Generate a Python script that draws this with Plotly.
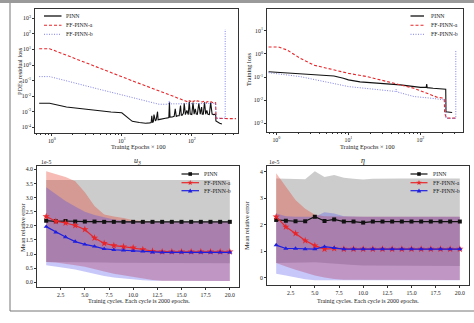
import math
import plotly.graph_objects as go

W, H = 474, 323
def fx(p): return p / W
def fy(p): return 1 - p / H

# ---------------- data ----------------
# top-left: PDEs residual loss
tl_pinn_x = [0.66, 0.93, 1.62, 3.0, 4.8, 7, 10, 11.7, 14.1, 17.8, 21.9, 25, 26.3, 26.8, 27.5, 28.2, 28.8, 30.2, 31, 32.4, 33, 35, 38, 40, 42, 45, 47, 47.9, 48.8, 52.5, 56, 58, 60, 63, 66, 69, 70.8, 73, 76, 78, 81, 85, 89, 92, 95, 100, 104, 108, 112, 116, 120, 126, 132, 138, 141, 146, 152, 158, 164, 170, 178, 186, 195, 205, 212, 219, 221, 235, 250, 269]
tl_pinn_y = [3.5e-3, 3.5e-3, 2.0e-3, 1.4e-3, 1.1e-3, 9.5e-4, 8.5e-4, 5.0e-4, 2.4e-4, 2.0e-4, 1.8e-4, 1.9e-4, 2.0e-4, 5.5e-4, 2.1e-4, 2.2e-4, 6.5e-4, 2.6e-4, 3.0e-4, 1.0e-3, 3.0e-4, 3.2e-4, 3.3e-4, 3.6e-4, 3.8e-4, 4.0e-4, 4.2e-4, 4.0e-3, 4.5e-4, 4.6e-4, 5.0e-4, 1.5e-3, 5.0e-4, 5.5e-4, 5.5e-4, 2.5e-3, 6.0e-4, 6.0e-4, 8.0e-4, 3.5e-3, 6.5e-4, 1.2e-3, 6.5e-4, 4.5e-3, 7e-4, 6.5e-4, 3.8e-3, 7e-4, 1.5e-3, 7e-4, 6.8e-4, 3.5e-3, 7e-4, 2.0e-3, 7e-4, 7e-4, 4.0e-3, 7e-4, 1.2e-3, 6.8e-4, 6.5e-4, 3.8e-3, 7e-4, 6.5e-4, 7e-4, 7e-4, 2.5e-4, 2.0e-4, 1.8e-4, 1.6e-4]
tl_a_x = [0.66, 0.93, 1.05, 1.5, 2, 3, 5, 7, 10, 15, 20, 30, 40, 50, 60, 67, 75, 80, 85, 90, 95, 100, 105, 110, 115, 120, 130, 140, 150, 160, 170, 180, 190, 200, 212, 219, 222, 260, 330, 427]
tl_a_y = [11, 11, 9.1, 4.8, 2.95, 1.45, 0.6, 0.33, 0.18, 0.087, 0.054, 0.026, 0.016, 0.011, 7.8e-3, 6.6e-3, 5.5e-3, 5e-3, 4.5e-3, 5.5e-3, 4.5e-3, 5.5e-3, 4.5e-3, 5e-3, 4.2e-3, 5e-3, 4.5e-3, 4.2e-3, 4.8e-3, 4.0e-3, 4.5e-3, 4.0e-3, 4.3e-3, 3.8e-3, 4.0e-3, 3.8e-3, 3.8e-4, 3.6e-4, 3.6e-4, 3.6e-4]
tl_b_x = [0.66, 0.93, 1.5, 2, 3, 5, 10, 20, 30, 34, 40, 46, 47.9, 49, 60, 80, 100, 150, 200, 219, 222, 296, 300, 300]
tl_b_y = [0.18, 0.18, 0.105, 0.074, 0.047, 0.026, 0.012, 5.4e-3, 3.4e-3, 3.0e-3, 3.0e-3, 3.0e-3, 5e-3, 3.2e-3, 3.2e-3, 3.3e-3, 3.5e-3, 3.5e-3, 3.4e-3, 3.4e-3, 3.8e-4, 3.8e-4, 3.8e-4, 200]

# top-right: training loss
tr_pinn_x = [0.78, 2.14, 6.3, 8.5, 10, 14.5, 31, 52.5, 100, 120, 122, 124, 150, 224, 226, 250, 275]
tr_pinn_y = [0.17, 0.135, 0.112, 0.089, 0.076, 0.062, 0.054, 0.046, 0.036, 0.036, 0.05, 0.035, 0.033, 0.03, 3.2e-3, 3.0e-3, 2.95e-3]
tr_a_x = [0.78, 1.07, 1.41, 2.14, 3.3, 5, 10, 18.2, 31, 52.5, 81, 123, 170, 200, 214, 216, 230, 309]
tr_a_y = [2.0, 2.0, 1.48, 0.65, 0.33, 0.24, 0.145, 0.105, 0.069, 0.046, 0.033, 0.02, 0.0135, 0.0126, 0.011, 2.8e-3, 1.7e-3, 1.7e-3]
tr_b_x = [0.78, 2.14, 10, 31, 45, 46, 47, 52.5, 81, 140, 224, 226, 309, 309]
tr_b_y = [0.155, 0.105, 0.039, 0.0275, 0.024, 0.03, 0.023, 0.021, 0.0145, 0.0123, 0.0102, 1.66e-3, 1.66e-3, 1.5]

# bottom: mean relative error (x 1e-5) per training cycle
cycles = [1, 2, 3, 4, 5, 6, 7, 8, 9, 10, 11, 12, 13, 14, 15, 16, 17, 18, 19, 20]
u3_pinn = [2.18, 2.16, 2.17, 2.15, 2.15, 2.15, 2.14, 2.14, 2.14, 2.14, 2.14, 2.14, 2.14, 2.14, 2.14, 2.14, 2.14, 2.14, 2.14, 2.14]
u3_a = [2.33, 2.16, 2.10, 2.01, 1.87, 1.57, 1.38, 1.30, 1.26, 1.22, 1.16, 1.10, 1.08, 1.08, 1.08, 1.08, 1.08, 1.08, 1.08, 1.08]
u3_b = [1.97, 1.77, 1.60, 1.44, 1.34, 1.27, 1.18, 1.15, 1.13, 1.11, 1.09, 1.06, 1.06, 1.06, 1.06, 1.06, 1.06, 1.06, 1.06, 1.06]
u3_pinn_hi = [3.62, 3.62, 3.62, 3.62, 3.62, 3.62, 3.62, 3.62, 3.62, 3.62, 3.62, 3.62, 3.62, 3.62, 3.62, 3.62, 3.62, 3.62, 3.62, 3.62]
u3_pinn_lo = [0.72, 0.72, 0.71, 0.71, 0.70, 0.70, 0.70, 0.69, 0.69, 0.69, 0.68, 0.68, 0.68, 0.68, 0.68, 0.67, 0.67, 0.67, 0.67, 0.67]
u3_a_hi = [3.93, 3.83, 3.73, 3.58, 3.19, 2.70, 2.40, 2.33, 2.28, 2.20, 2.16, 2.14, 2.14, 2.14, 2.14, 2.14, 2.14, 2.14, 2.14, 2.14]
u3_a_lo = [0.72, 0.70, 0.66, 0.60, 0.55, 0.47, 0.38, 0.30, 0.24, 0.18, 0.13, 0.08, 0.05, 0.04, 0.04, 0.04, 0.04, 0.04, 0.04, 0.04]
u3_b_hi = [3.37, 3.12, 2.88, 2.68, 2.50, 2.38, 2.30, 2.22, 2.18, 2.15, 2.14, 2.14, 2.14, 2.14, 2.14, 2.14, 2.14, 2.14, 2.14, 2.14]
u3_b_lo = [0.60, 0.55, 0.50, 0.45, 0.38, 0.30, 0.22, 0.17, 0.13, 0.10, 0.07, 0.05, 0.04, 0.04, 0.04, 0.04, 0.04, 0.04, 0.04, 0.04]

eta_pinn = [2.18, 2.15, 2.13, 2.13, 2.30, 2.14, 2.20, 2.12, 2.12, 2.08, 2.12, 2.12, 2.12, 2.12, 2.12, 2.12, 2.12, 2.12, 2.12, 2.12]
eta_a = [2.30, 1.92, 1.67, 1.40, 1.21, 1.08, 1.10, 1.08, 1.08, 1.08, 1.08, 1.08, 1.08, 1.08, 1.08, 1.08, 1.08, 1.08, 1.08, 1.08]
eta_b = [1.23, 1.10, 1.10, 1.08, 1.08, 1.17, 1.12, 1.08, 1.08, 1.08, 1.08, 1.08, 1.08, 1.08, 1.08, 1.08, 1.08, 1.08, 1.08, 1.08]
eta_pinn_hi = [3.75, 3.74, 3.73, 3.72, 4.02, 3.80, 3.88, 3.78, 3.74, 3.71, 3.74, 3.75, 3.75, 3.75, 3.75, 3.75, 3.75, 3.75, 3.75, 3.75]
eta_pinn_lo = [0.55, 0.55, 0.56, 0.57, 0.58, 0.55, 0.52, 0.50, 0.48, 0.46, 0.45, 0.45, 0.45, 0.44, 0.44, 0.44, 0.44, 0.44, 0.44, 0.44]
eta_a_hi = [3.95, 3.43, 2.93, 2.60, 2.38, 2.32, 2.31, 2.30, 2.30, 2.30, 2.30, 2.30, 2.30, 2.30, 2.30, 2.30, 2.30, 2.30, 2.30, 2.30]
eta_a_lo = [0.55, 0.42, 0.30, 0.18, 0.08, 0.00, -0.05, -0.08, -0.09, -0.09, -0.09, -0.09, -0.09, -0.09, -0.09, -0.09, -0.09, -0.09, -0.09, -0.09]
eta_b_hi = [2.42, 2.32, 2.30, 2.30, 2.30, 2.47, 2.42, 2.32, 2.30, 2.30, 2.30, 2.30, 2.30, 2.30, 2.30, 2.30, 2.30, 2.30, 2.30, 2.30]
eta_b_lo = [0.15, 0.08, 0.00, -0.06, -0.10, -0.10, -0.10, -0.10, -0.10, -0.10, -0.10, -0.10, -0.10, -0.10, -0.10, -0.10, -0.10, -0.10, -0.10, -0.10]

names = ["PINN", "FF-PINN-a", "FF-PINN-b"]

# ---------------- styles ----------------
FONT = "Liberation Serif"
C_BLACK = "#111111"
C_RED = "#e8262a"
C_BLUE_T = "#6f6fe6"
C_BLUE = "#1f1fe0"
F_GRAY = "rgba(128,128,128,0.40)"
F_RED = "rgba(225,60,40,0.35)"
F_BLUE = "rgba(70,70,235,0.30)"
DASH_RED = "3px,2px"
DASH_BLUE = "1px,1.5px"

fig = go.Figure()

def line(x, y, xa, ya, color, dash="solid", width=1.1, marker=None):
    kw = dict(mode="lines")
    if marker:
        kw = dict(mode="lines+markers", marker=marker)
    fig.add_trace(go.Scatter(x=x, y=y, xaxis=xa, yaxis=ya, line=dict(color=color, dash=dash, width=width),
                             showlegend=False, hoverinfo="skip", **kw))

def band(x, lo, hi, xa, ya, fc):
    fig.add_trace(go.Scatter(x=list(x) + list(x)[::-1], y=list(hi) + list(lo)[::-1], xaxis=xa, yaxis=ya,
                             fill="toself", fillcolor=fc, line=dict(width=0), mode="lines",
                             showlegend=False, hoverinfo="skip"))

# top-left
line(tl_pinn_x, tl_pinn_y, "x", "y", C_BLACK, "solid", 1.1)
line(tl_a_x, tl_a_y, "x", "y", C_RED, DASH_RED, 1.1)
line(tl_b_x, tl_b_y, "x", "y", C_BLUE_T, DASH_BLUE, 0.9)
# top-right
line(tr_pinn_x, tr_pinn_y, "x2", "y2", C_BLACK, "solid", 1.1)
line(tr_a_x, tr_a_y, "x2", "y2", C_RED, DASH_RED, 1.1)
line(tr_b_x, tr_b_y, "x2", "y2", C_BLUE_T, DASH_BLUE, 0.9)
# bottom bands
band(cycles, u3_pinn_lo, u3_pinn_hi, "x3", "y3", F_GRAY)
band(cycles, u3_a_lo, u3_a_hi, "x3", "y3", F_RED)
band(cycles, u3_b_lo, u3_b_hi, "x3", "y3", F_BLUE)
band(cycles, eta_pinn_lo, eta_pinn_hi, "x4", "y4", F_GRAY)
band(cycles, eta_a_lo, eta_a_hi, "x4", "y4", F_RED)
band(cycles, eta_b_lo, eta_b_hi, "x4", "y4", F_BLUE)
mk_sq = dict(symbol="square", size=4, color=C_BLACK)
mk_st = dict(symbol="star", size=5.5, color=C_RED)
mk_tr = dict(symbol="triangle-up", size=4.5, color=C_BLUE)
for xa, ya, p, a, b in [("x3", "y3", u3_pinn, u3_a, u3_b), ("x4", "y4", eta_pinn, eta_a, eta_b)]:
    line(cycles, p, xa, ya, C_BLACK, "solid", 1.2, mk_sq)
    line(cycles, a, xa, ya, C_RED, "solid", 1.2, mk_st)
    line(cycles, b, xa, ya, C_BLUE, "solid", 1.2, mk_tr)

tickfont = dict(family=FONT, size=5.8, color="#222")
base_ax = dict(showline=True, mirror=True, linecolor="#333", linewidth=0.8, ticks="outside", ticklen=2,
               tickwidth=0.6, tickcolor="#333", showgrid=False, zeroline=False, tickfont=tickfont)

def sup(e):
    return "10<sup>%d</sup>" % e

minor_x = dict(ticks="outside", ticklen=1.3, tickwidth=0.5, tickcolor="#333",
               tickmode="array", tickvals=[m * 10 ** e for e in range(-1, 3) for m in range(2, 10)])

xt_lin = dict(tickmode="array", tickvals=[2.5, 5, 7.5, 10, 12.5, 15, 17.5, 20],
              ticktext=["2.5", "5.0", "7.5", "10.0", "12.5", "15.0", "17.5", "20.0"])

layout_axes = dict(
    xaxis=dict(base_ax, type="log", domain=[fx(35), fx(238)], range=[-0.24, 2.66], anchor="y",
               tickmode="array", tickvals=[1, 10, 100], ticktext=[sup(0), sup(1), sup(2)], minor=minor_x),
    yaxis=dict(base_ax, type="log", domain=[fy(133), fy(9)], range=[-4.37, 3.6], anchor="x",
               tickmode="array", tickvals=[10 ** e for e in range(-4, 4)], ticktext=[sup(e) for e in range(-4, 4)]),
    xaxis2=dict(base_ax, type="log", domain=[fx(267), fx(463)], range=[-0.13, 2.59], anchor="y2",
                tickmode="array", tickvals=[1, 10, 100], ticktext=[sup(0), sup(1), sup(2)], minor=minor_x),
    yaxis2=dict(base_ax, type="log", domain=[fy(132), fy(9)], range=[-3.37, 1.94], anchor="x2",
                tickmode="array", tickvals=[10 ** e for e in range(-3, 2)], ticktext=[sup(e) for e in range(-3, 2)]),
    xaxis3=dict(base_ax, domain=[fx(37), fx(239)], range=[0.05, 20.95], anchor="y3", **xt_lin),
    yaxis3=dict(base_ax, domain=[fy(287), fy(166)], range=[-0.17, 4.12], anchor="x3",
                tickmode="array", tickvals=[0, 0.5, 1, 1.5, 2, 2.5, 3, 3.5, 4],
                ticktext=["0.0", "0.5", "1.0", "1.5", "2.0", "2.5", "3.0", "3.5", "4.0"]),
    xaxis4=dict(base_ax, domain=[fx(267), fx(469)], range=[0.05, 20.95], anchor="y4", **xt_lin),
    yaxis4=dict(base_ax, domain=[fy(285), fy(166)], range=[-0.28, 4.22], anchor="x4",
                tickmode="array", tickvals=[0, 1, 2, 3, 4], ticktext=["0", "1", "2", "3", "4"]),
)

ann = []
def text(x, y, s, size=6.3, angle=0, xanchor="center", color="#222", italic=False):
    ann.append(dict(x=fx(x), y=fy(y), xref="paper", yref="paper", text=s, showarrow=False,
                    xanchor=xanchor, yanchor="middle", textangle=angle,
                    font=dict(family=FONT, size=size, color=color, style="italic" if italic else "normal")))

text(19, 71, "PDEs residual loss", angle=-90)
text(248, 70, "Training loss", angle=-90)
text(138, 146, "Trainig Epochs × 100")
text(367, 146, "Trainig Epochs × 100")
text(22, 227, "Mean relative error", angle=-90)
text(246, 225, "Mean relative error", angle=-90)
text(139, 300.5, "Trainig cycles. Each cycle is 2000 epochs.", size=6)
text(368, 300.5, "Trainig cycles. Each cycle is 2000 epochs.", size=6)
text(137, 160.5, "u<sub>3</sub>", size=8, italic=True)
text(363, 160.5, "η", size=8, italic=True)
text(39, 162, "1e-5", size=5.8, xanchor="left")
text(267, 162, "1e-5", size=5.8, xanchor="left")

shapes = []
# page frame
shapes.append(dict(type="rect", xref="paper", yref="paper", x0=0, x1=1, y0=fy(3), y1=1,
                   fillcolor="#9a9a9a", line=dict(width=0)))
shapes.append(dict(type="line", xref="paper", yref="paper", x0=fx(10), x1=fx(10), y0=fy(311), y1=fy(3),
                   line=dict(color="#777", width=1)))
shapes.append(dict(type="line", xref="paper", yref="paper", x0=fx(10), x1=1, y0=fy(311), y1=fy(311),
                   line=dict(color="#777", width=1)))

def leg_line(x0, x1, y, color, dash, width):
    shapes.append(dict(type="line", xref="paper", yref="paper", x0=fx(x0), x1=fx(x1), y0=fy(y), y1=fy(y),
                       line=dict(color=color, dash=dash, width=width)))

def leg_marker(kind, cx, cy, color):
    if kind == "square":
        s = 1.8
        shapes.append(dict(type="rect", xref="paper", yref="paper", x0=fx(cx - s), x1=fx(cx + s),
                           y0=fy(cy + s), y1=fy(cy - s), fillcolor=color, line=dict(width=0)))
        return
    if kind == "tri":
        pts = [(cx, cy - 2.3), (cx + 2.3, cy + 1.8), (cx - 2.3, cy + 1.8)]
    else:
        pts = []
        for i in range(10):
            r = 2.8 if i % 2 == 0 else 1.2
            ang = -math.pi / 2 + i * math.pi / 5
            pts.append((cx + r * math.cos(ang), cy + r * math.sin(ang)))
    path = "M " + " L ".join("%f,%f" % (fx(a), fy(b)) for a, b in pts) + " Z"
    shapes.append(dict(type="path", xref="paper", yref="paper", path=path, fillcolor=color, line=dict(width=0)))

leg_rows = [16, 25.3, 34.3]
top_styles = [(C_BLACK, "solid", 1.3), (C_RED, DASH_RED, 1.1), (C_BLUE_T, DASH_BLUE, 0.9)]
for (c, d, w), yy, n in zip(top_styles, leg_rows, names):
    leg_line(44, 61.5, yy, c, d, w)
    text(64, yy, n, size=5.8, xanchor="left")
    leg_line(410.5, 424, yy, c, d, w)
    text(429, yy, n, size=5.8, xanchor="left")

bot_rows = [174, 182.7, 190.7]
bot_styles = [(C_BLACK, "square"), (C_RED, "star"), (C_BLUE, "tri")]
for (c, k), yy, n in zip(bot_styles, bot_rows, names):
    leg_line(181.5, 199, yy, c, "solid", 1.2)
    leg_marker(k, 190.2, yy, c)
    text(202, yy, n, size=5.8, xanchor="left")
    leg_line(410.5, 427.5, yy, c, "solid", 1.2)
    leg_marker(k, 419, yy, c)
    text(431, yy, n, size=5.8, xanchor="left")

fig.update_layout(width=W, height=H, margin=dict(l=0, r=0, t=0, b=0), paper_bgcolor="white",
                  plot_bgcolor="white", showlegend=False, annotations=ann, shapes=shapes, **layout_axes)

fig.write_html("out.html")
